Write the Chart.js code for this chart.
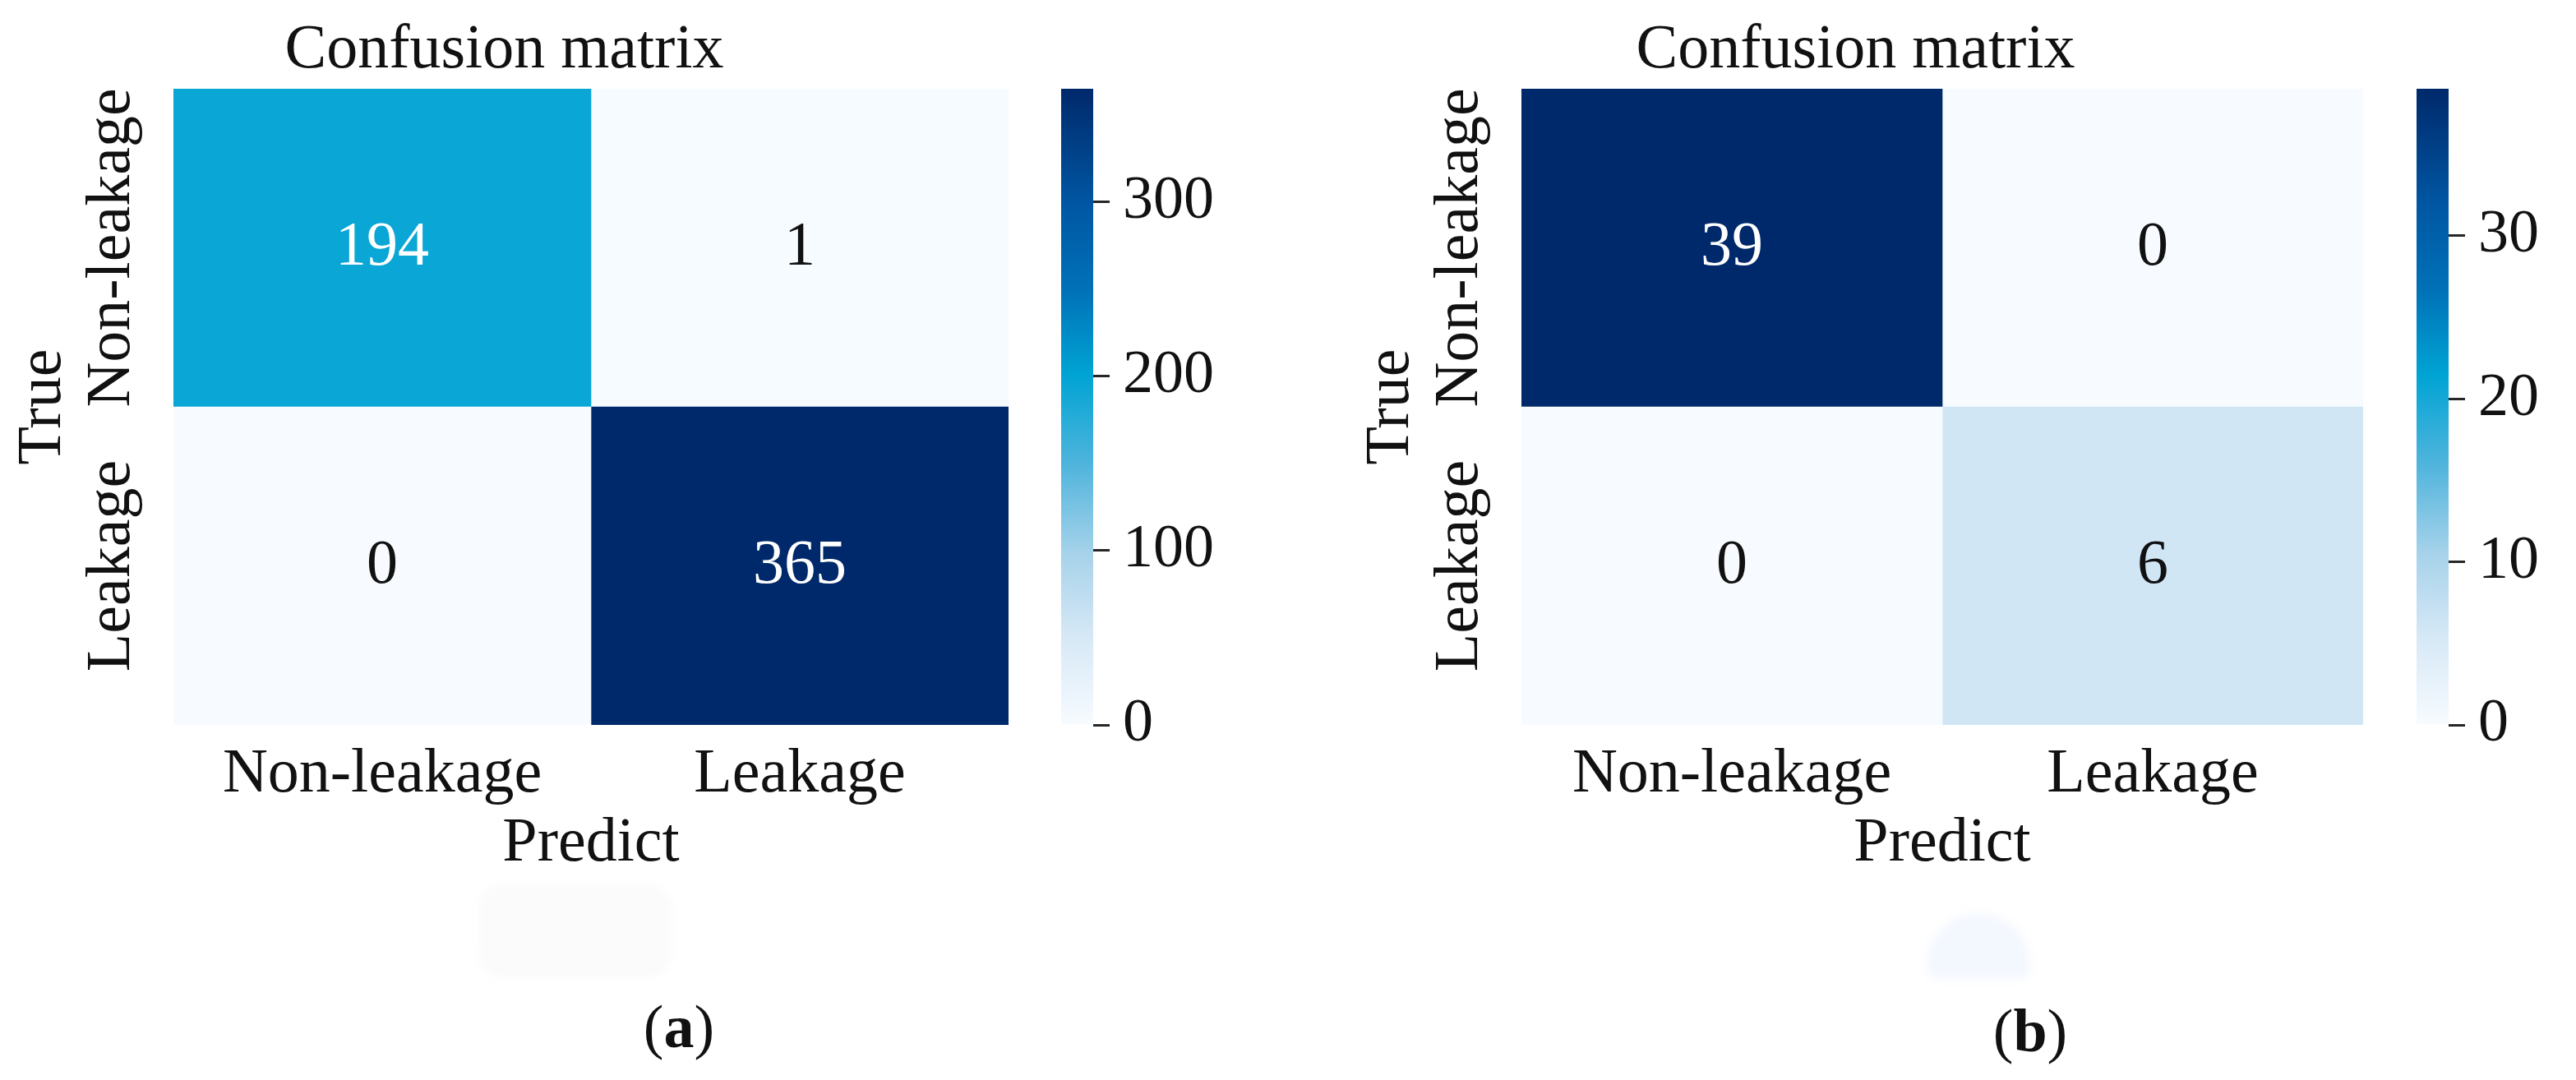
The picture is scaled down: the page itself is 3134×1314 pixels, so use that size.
<!DOCTYPE html>
<html>
<head>
<meta charset="utf-8">
<script src="https://cdn.jsdelivr.net/npm/chart.js@4.4.1/dist/chart.umd.min.js"></script>
<style>
  html, body { margin: 0; padding: 0; background: #fff; }
  body { width: 3134px; height: 1314px; position: relative; overflow: hidden; font-family: "Liberation Serif", "Times New Roman", serif; }
  canvas { position: absolute; }
  .tag { position: absolute; width: 200px; text-align: center; font-size: 74px; line-height: 74px; color: #111; }
  .smudge { position: absolute; }
</style>
</head>
<body>
<canvas id="heatA" width="1260" height="1073" style="left:0;top:0"></canvas>
<canvas id="barA" width="220" height="1000" style="left:1280px;top:0"></canvas>
<canvas id="heatB" width="1268" height="1073" style="left:1640px;top:0"></canvas>
<canvas id="barB" width="205" height="1000" style="left:2929px;top:0"></canvas>

<div class="smudge" style="left:582px;top:1076px;width:236px;height:114px;border-radius:30px;background:#fbfbfc;filter:blur(4px)"></div>
<div class="smudge" style="left:2345px;top:1112px;width:124px;height:78px;border-radius:60px 60px 8px 8px;background:#f3f7fe;filter:blur(6px)"></div>

<div class="tag" style="left:726px;top:1212px">(<b>a</b>)</div>
<div class="tag" style="left:2370px;top:1217px">(<b>b</b>)</div>

<script>
// confusion matrices, rows = true class, columns = predicted class
const trueLabels = ["Non-leakage", "Leakage"];
const predictLabels = ["Non-leakage", "Leakage"];
const matrixA = [
  [194, 1],
  [0, 365]
];
const matrixB = [
  [39, 0],
  [0, 6]
];
const colorbarTicksA = [0, 100, 200, 300];
const colorbarTicksB = [0, 10, 20, 30];

const ink = "#111111";
const serif = "'Liberation Serif', 'Times New Roman', serif";
Chart.defaults.font.family = serif;
Chart.defaults.color = ink;

// colour map
const cmapStops = [
  [0.00, [247, 251, 255]],
  [0.14, [214, 232, 246]],
  [0.27, [166, 210, 234]],
  [0.41, [79, 180, 220]],
  [0.55, [0, 164, 212]],
  [0.68, [0, 114, 184]],
  [0.82, [0, 86, 162]],
  [1.00, [0, 41, 107]]
];

function cmap(t) {
  t = Math.max(0, Math.min(1, t));
  for (let i = 1; i < cmapStops.length; i++) {
    const [t1, c1] = cmapStops[i];
    const [t0, c0] = cmapStops[i - 1];
    if (t <= t1) {
      const f = (t - t0) / (t1 - t0);
      const c = c0.map((v, k) => Math.round(v + (c1[k] - v) * f));
      return `rgb(${c[0]},${c[1]},${c[2]})`;
    }
  }
  return "rgb(0,41,107)";
}

const bigFont = { family: serif, size: 76, lineHeight: 1.2, weight: "normal" };

// numbers inside the cells
const cellText = {
  id: "cellText",
  afterDatasetsDraw(chart) {
    const { ctx } = chart;
    const all = chart.data.datasets.flatMap(d => d.counts);
    const vmax = Math.max(...all);
    ctx.save();
    ctx.font = `76px ${serif}`;
    ctx.textAlign = "center";
    ctx.textBaseline = "alphabetic";
    chart.data.datasets.forEach((ds, i) => {
      const meta = chart.getDatasetMeta(i);
      meta.data.forEach((bar, r) => {
        const { x, y } = bar.getCenterPoint();
        const v = ds.counts[r];
        ctx.fillStyle = v / vmax > 0.5 ? "#ffffff" : ink;
        ctx.fillText(String(v), x, y + 20);
      });
    });
    ctx.restore();
  }
};

// rotated row labels on the left
const rowLabels = {
  id: "rowLabels",
  afterDraw(chart) {
    const { ctx } = chart;
    const ys = chart.scales.y;
    ctx.save();
    ctx.font = `76px ${serif}`;
    ctx.fillStyle = ink;
    ctx.textAlign = "center";
    ctx.textBaseline = "alphabetic";
    trueLabels.forEach((lab, i) => {
      ctx.save();
      ctx.translate(ys.right - 54, ys.getPixelForValue(i));
      ctx.rotate(-Math.PI / 2);
      ctx.fillText(lab, 0, 0);
      ctx.restore();
    });
    ctx.restore();
  }
};

function heatmap(id, matrix) {
  const vmax = Math.max(...matrix.flat());
  return new Chart(document.getElementById(id), {
    type: "bar",
    data: {
      labels: trueLabels,
      datasets: predictLabels.map((p, j) => ({
        label: p,
        data: trueLabels.map(() => [j, j + 1]),
        counts: matrix.map(row => row[j]),
        backgroundColor: matrix.map(row => cmap(row[j] / vmax)),
        barPercentage: 1,
        categoryPercentage: 1,
        grouped: false,
        borderWidth: 0
      }))
    },
    options: {
      indexAxis: "y",
      responsive: false,
      animation: false,
      events: [],
      devicePixelRatio: 1,
      layout: { padding: { left: 0, right: 33, top: 0, bottom: 0 } },
      plugins: {
        legend: { display: false },
        tooltip: { enabled: false },
        title: {
          display: true,
          text: "Confusion matrix",
          color: ink,
          font: bigFont,
          padding: { top: 16, bottom: 0.8 }
        }
      },
      scales: {
        x: {
          type: "linear",
          min: 0,
          max: predictLabels.length,
          afterBuildTicks: s => {
            s.ticks = predictLabels.map((_, j) => ({ value: j + 0.5 }));
          },
          ticks: {
            callback: v => predictLabels[Math.floor(v)],
            font: bigFont,
            color: ink,
            padding: 15,
            autoSkip: false,
            maxRotation: 0
          },
          grid: { display: false, drawTicks: false },
          border: { display: false },
          title: { display: true, text: "Predict", font: bigFont, color: ink, padding: { top: 0, bottom: 0 } },
          afterFit: s => { s.height = 191; }
        },
        y: {
          ticks: { display: false },
          grid: { display: false, drawTicks: false },
          border: { display: false },
          title: { display: true, text: "True", font: bigFont, color: ink, padding: { top: 7, bottom: 0 } },
          afterFit: s => { s.width = 211; }
        }
      }
    },
    plugins: [cellText, rowLabels]
  });
}

function barGradient(chart) {
  const area = chart.chartArea;
  if (!area) return cmap(0.5);
  const g = chart.ctx.createLinearGradient(0, area.bottom, 0, area.top);
  cmapStops.forEach(([t, c]) => g.addColorStop(t, `rgb(${c[0]},${c[1]},${c[2]})`));
  return g;
}

function colorbar(id, matrix, ticks) {
  const vmax = Math.max(...matrix.flat());
  const el = document.getElementById(id);
  return new Chart(el, {
    type: "bar",
    data: {
      labels: [""],
      datasets: [{
        data: [[0, vmax]],
        backgroundColor: ctx => barGradient(ctx.chart),
        barPercentage: 1,
        categoryPercentage: 1,
        borderWidth: 0
      }]
    },
    options: {
      responsive: false,
      animation: false,
      events: [],
      devicePixelRatio: 1,
      layout: { padding: { left: 11, right: 0, top: 108, bottom: el.height - 882 } },
      plugins: { legend: { display: false }, tooltip: { enabled: false } },
      scales: {
        x: { display: false },
        y: {
          position: "right",
          min: 0,
          max: vmax,
          afterBuildTicks: s => { s.ticks = ticks.map(v => ({ value: v })); },
          ticks: { font: { family: serif, size: 74 }, color: ink, padding: 16 },
          grid: { drawOnChartArea: false, drawTicks: true, tickLength: 20, color: "#262626", lineWidth: 3 },
          border: { display: false },
          afterFit: s => { s.width = el.width - 11 - 39; }
        }
      }
    }
  });
}

heatmap("heatA", matrixA);
colorbar("barA", matrixA, colorbarTicksA);
heatmap("heatB", matrixB);
colorbar("barB", matrixB, colorbarTicksB);
</script>
</body>
</html>
